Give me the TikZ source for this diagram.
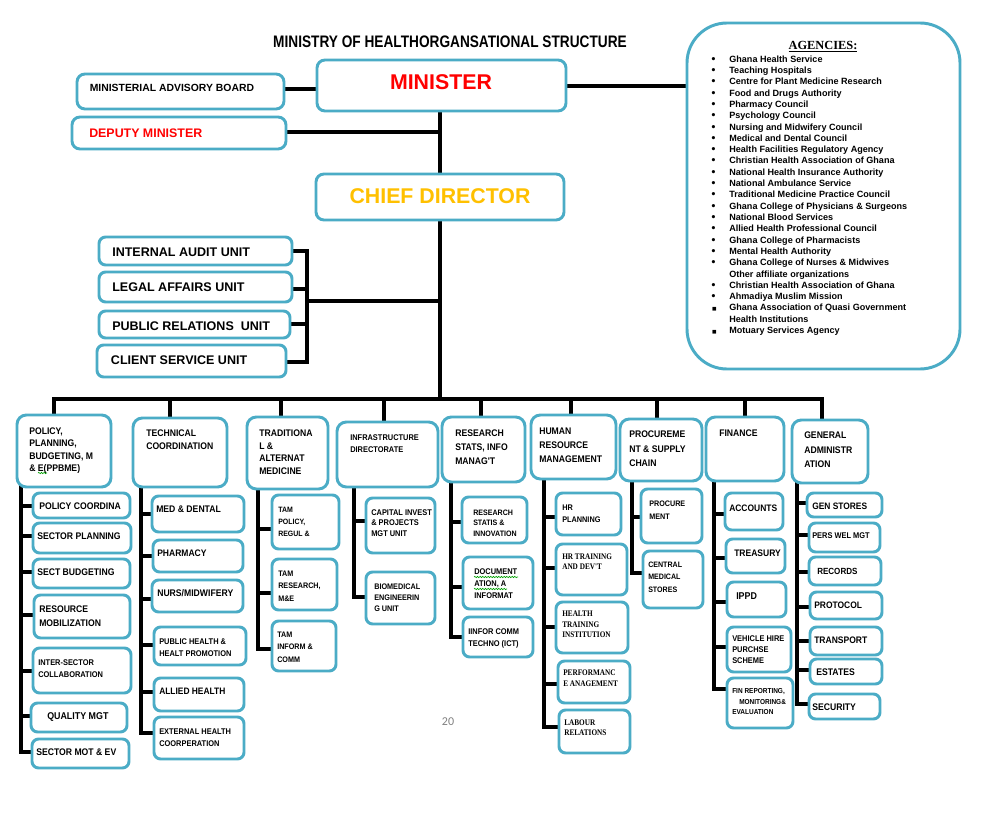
\documentclass[tikz,border=0pt]{standalone}
\usepackage{fontspec}
\setmainfont{Liberation Sans}
\newfontfamily\bsf{Liberation Sans}
\newfontfamily\bsn{Liberation Sans}[FakeStretch=0.9]
\newfontfamily\nar{Liberation Sans}[FakeStretch=0.82]
\newfontfamily\bser{Liberation Serif}[FakeStretch=0.85]
\newfontfamily\bserif{Liberation Serif}
\newfontfamily\dvs{DejaVu Sans}
\newfontfamily\carl{Carlito}
\usetikzlibrary{backgrounds,decorations.pathmorphing}
\definecolor{boxblue}{HTML}{4BACC6}
\definecolor{chiefcol}{HTML}{FFC000}
\definecolor{pgray}{HTML}{808080}
\definecolor{spellgreen}{HTML}{00A000}
% box: name, x1, y1, x2, y2 (pixel coordinates)
\newcommand\bx[6][]{\node[box,#1,anchor=north west,minimum width={(#5-#3)*0.75pt},minimum height={(#6-#4)*0.75pt}] (#2) at (#3,#4) {};}
% text: name, x, baseline y, size, skip, lines
\newcommand\tx[7][]{\node[txt,#1,anchor=base west] (#2) at (#3,#4) {\fontsize{#5}{#6}\selectfont\begin{tabular}[t]{@{}l@{}}#7\end{tabular}};}
\newcommand\stub[3]{\draw[conn] (#1 |- 0,#3) -- (#2.west |- 0,#3);}
\newcommand\agb{\makebox[14pt][l]{\dvs •}}
\newcommand\agq{\makebox[14pt][l]{\hspace*{1pt}\dvs\fontsize{3.6}{4}\selectfont ■}}
\newcommand\agn{\makebox[14pt][l]{}}
\begin{document}
\begin{tikzpicture}[x=0.75pt,y=-0.75pt,
 box/.style={draw=boxblue,line width=2.2pt,rounded corners=5pt,fill=white,inner sep=0pt,outer sep=0pt},
 top/.style={rounded corners=6pt},
 dept/.style={rounded corners=7pt},
 agency/.style={rounded corners=30pt},
 conn/.style={line width=2.4pt,line cap=rect},
 txt/.style={inner sep=0pt,font=\bsn\bfseries},
 txs/.style={font=\bser\bfseries},
 txb/.style={font=\bsf\bfseries},
 spell/.style={draw=spellgreen,line width=0.5pt,decorate,decoration={snake,amplitude=0.5pt,segment length=2pt}}]
\useasboundingbox (0,0) rectangle (1000,820);

% ---------- title ----------
\node[inner sep=0pt,font=\nar\bfseries\fontsize{12.5}{14}\selectfont] (title) at (450,42) {MINISTRY OF HEALTHORGANSATIONAL STRUCTURE};

% ---------- top boxes ----------
\bx[top]{mab}{77}{74}{284}{109}
\bx[top]{dep}{72}{117}{286}{149}
\bx[top]{min}{317}{60}{566}{111}
\bx[top]{cd}{316}{174}{564}{220}
\bx[agency]{ag}{687}{23}{960}{369}

\node[inner sep=0pt,font=\bsf\bfseries\fontsize{16}{18}\selectfont,text=red] (min-t) at (441,82) {MINISTER};
\node[inner sep=0pt,font=\bsf\bfseries\fontsize{16}{18}\selectfont,text=chiefcol] (cd-t) at (440,196) {CHIEF DIRECTOR};
\tx[txb]{mab-t}{89.5}{91.7}{7.8}{9}{MINISTERIAL ADVISORY BOARD}
\tx[txb,text=red]{dep-t}{89}{137.4}{9.3}{11}{DEPUTY MINISTER}

% ---------- agencies ----------
\node[inner sep=0pt,font=\bserif\bfseries\fontsize{9.3}{10}\selectfont] (ag-title) at (823,46.7) {\underline{AGENCIES:}};
\node[inner sep=0pt,anchor=base west,font=\bsf\bfseries\fontsize{6.8}{8.48}\selectfont] (ag-list) at (710.4,62.2) {\begin{tabular}[t]{@{}l@{}}
\agb Ghana Health Service\\
\agb Teaching Hospitals\\
\agb Centre for Plant Medicine Research\\
\agb Food and Drugs Authority\\
\agb Pharmacy Council\\
\agb Psychology Council\\
\agb Nursing and Midwifery Council\\
\agb Medical and Dental Council\\
\agb Health Facilities Regulatory Agency\\
\agb Christian Health Association of Ghana\\
\agb National Health Insurance Authority\\
\agb National Ambulance Service\\
\agb Traditional Medicine Practice Council\\
\agb Ghana College of Physicians \& Surgeons\\
\agb National Blood Services\\
\agb Allied Health Professional Council\\
\agb Ghana College of Pharmacists\\
\agb Mental Health Authority\\
\agb Ghana College of Nurses \& Midwives\\
\agn Other affiliate organizations\\
\agb Christian Health Association of Ghana\\
\agb Ahmadiya Muslim Mission\\
\agq Ghana Association of Quasi Government\\
\agn Health Institutions\\
\agq Motuary Services Agency
\end{tabular}};

% ---------- units ----------
\bx{iau}{99}{237}{292}{265}
\bx{lau}{99}{272}{292}{302}
\bx{pru}{99}{311}{290}{338}
\bx{csu}{97}{345}{286}{377}
\tx[txb]{iau-t}{112}{256.2}{9.4}{11}{INTERNAL AUDIT UNIT}
\tx[txb]{lau-t}{112}{291.2}{9.4}{11}{LEGAL AFFAIRS UNIT}
\tx[txb]{pru-t}{112}{330.5}{9.4}{11}{PUBLIC RELATIONS\ \ UNIT}
\tx[txb]{csu-t}{110.7}{364.5}{9.4}{11}{CLIENT SERVICE UNIT}

% ---------- departments ----------
\bx[dept]{ppb}{17}{415}{111}{487}
\bx[dept]{tec}{133}{418}{227}{487}
\bx[dept]{tra}{247}{417}{328}{489}
\bx[dept]{inf}{337}{422}{438}{487}
\bx[dept]{res}{442}{417}{525}{482}
\bx[dept]{hrm}{531}{415}{616}{479}
\bx[dept]{pro}{620}{419}{702}{481}
\bx[dept]{fin}{706}{417}{784}{481}
\bx[dept]{gad}{792}{420}{868}{483}
\tx{ppb-t}{29}{434.5}{7.2}{9.2}{POLICY,\\PLANNING,\\BUDGETING, M\\\& E(PPBME)}
\tx{tec-t}{146}{436.5}{7.2}{9.75}{TECHNICAL\\COORDINATION}
\tx{tra-t}{259}{436.5}{7.2}{9.5}{TRADITIONA\\L \&\\ALTERNAT\\MEDICINE}
\tx{inf-t}{350}{440}{6.2}{9}{INFRASTRUCTURE\\DIRECTORATE}
\tx{res-t}{455}{436.5}{7.2}{10.5}{RESEARCH\\STATS, INFO\\MANAG'T}
\tx{hrm-t}{539}{434.5}{7.2}{10.5}{HUMAN\\RESOURCE\\MANAGEMENT}
\tx{pro-t}{629}{437.5}{7.2}{10.9}{PROCUREME\\NT \& SUPPLY\\CHAIN}
\tx{fin-t}{719}{436.5}{7.2}{9}{FINANCE}
\tx{gad-t}{804}{438.5}{7.2}{10.9}{GENERAL\\ADMINISTR\\ATION}

% ---------- column 1 ----------
\bx{pc}{33}{493}{130}{518}
\bx{sp}{33}{523}{131}{553}
\bx{sb}{33}{559}{130}{588}
\bx{rm}{34}{595}{130}{638}
\bx{isc}{33}{648}{131}{693}
\bx{qm}{31}{703}{127}{732}
\bx{sme}{32}{739}{129}{768}
\tx{pc-t}{39}{509.5}{7.2}{9}{POLICY COORDINA}
\tx{sp-t}{37}{539.5}{7.2}{9}{SECTOR PLANNING}
\tx{sb-t}{37}{575.5}{7.2}{9}{SECT BUDGETING}
\tx{rm-t}{39}{612.5}{7.2}{10.5}{RESOURCE\\MOBILIZATION}
\tx{isc-t}{38}{665}{6.2}{9}{INTER-SECTOR\\COLLABORATION}
\tx{qm-t}{47}{719.5}{7.4}{9}{QUALITY MGT}
\tx{sme-t}{36}{755.5}{7.2}{9}{SECTOR MOT \& EV}

% ---------- column 2 ----------
\bx{md}{152}{496}{244}{532}
\bx{ph}{153}{540}{243}{572}
\bx{nm}{152}{580}{243}{612}
\bx{phh}{154}{627}{246}{665}
\bx{ah}{154}{678}{244}{711}
\bx{eh}{154}{717}{244}{759}
\tx{md-t}{156}{512.5}{7.2}{9}{MED \& DENTAL}
\tx{ph-t}{157}{556.5}{7.1}{9}{PHARMACY}
\tx{nm-t}{157}{596.5}{7.2}{9}{NURS/MIDWIFERY}
\tx{phh-t}{159}{644}{6.2}{9}{PUBLIC HEALTH \&\\HEALT PROMOTION}
\tx{ah-t}{159}{694.5}{7.0}{9}{ALLIED HEALTH}
\tx{eh-t}{159}{734}{6.2}{9}{EXTERNAL HEALTH\\COORPERATION}

% ---------- column 3 ----------
\bx{tp}{272}{495}{339}{549}
\bx{tr}{272}{559}{337}{610}
\bx{ti}{272}{621}{336}{671}
\tx{tp-t}{278}{512.8}{5.8}{9}{TAM\\POLICY,\\REGUL \&}
\tx{tr-t}{278}{576}{6.0}{9.4}{TAM\\RESEARCH,\\M\&E}
\tx{ti-t}{277}{637}{6.0}{9.4}{TAM\\INFORM \&\\COMM}

% ---------- column 4 ----------
\bx{cap}{366}{498}{435}{553}
\bx{bio}{366}{572}{435}{624}
\tx{cap-t}{371}{515}{6.2}{7.9}{CAPITAL INVEST\\\& PROJECTS\\MGT UNIT}
\tx{bio-t}{374}{589}{6.05}{8.6}{BIOMEDICAL\\ENGINEERIN\\G UNIT}

% ---------- column 5 ----------
\bx{rsi}{462}{497}{527}{543}
\bx{doc}{463}{557}{533}{609}
\bx{ict}{463}{617}{533}{657}
\tx{rsi-t}{473}{515}{5.9}{7.9}{RESEARCH\\STATIS \&\\INNOVATION}
\tx{doc-t}{474}{574}{6.2}{9}{DOCUMENT\\ATION, A\\INFORMAT}
\tx{ict-t}{468}{634}{6.2}{9}{IINFOR COMM\\TECHNO (ICT)}

% ---------- column 6 ----------
\bx{hrp}{556}{493}{621}{535}
\bx{hrt}{556}{544}{627}{595}
\bx{hti}{556}{602}{628}{653}
\bx{pm}{558}{661}{630}{703}
\bx{lr}{559}{710}{630}{753}
\tx{hrp-t}{562}{510}{6.1}{9}{HR\\PLANNING}
\tx[txs]{hrt-t}{562}{559.8}{6.4}{7.5}{HR TRAINING\\AND DEV'T}
\tx[txs]{hti-t}{562}{616.8}{6.4}{7.9}{HEALTH\\TRAINING\\INSTITUTION}
\tx[txs]{pm-t}{563}{675.8}{6.4}{8.2}{PERFORMANC\\E ANAGEMENT}
\tx[txs]{lr-t}{564}{725.8}{6.4}{7.5}{LABOUR\\RELATIONS}

% ---------- column 7 ----------
\bx{prc}{641}{489}{702}{543}
\bx{cms}{643}{551}{703}{608}
\tx{prc-t}{649}{506}{6.0}{9.75}{PROCURE\\MENT}
\tx{cms-t}{648}{567}{5.9}{9.4}{CENTRAL\\MEDICAL\\STORES}

% ---------- column 8 ----------
\bx{acc}{725}{493}{783}{530}
\bx{tre}{726}{539}{785}{573}
\bx{ipd}{727}{582}{786}{617}
\bx{vh}{727}{627}{791}{672}
\bx{frm}{727}{678}{793}{728}
\tx{acc-t}{729}{511.5}{7.05}{9}{ACCOUNTS}
\tx{tre-t}{734}{556.5}{7.1}{9}{TREASURY}
\tx{ipd-t}{736}{599.5}{7.4}{9}{IPPD}
\tx{vh-t}{732}{641}{6.2}{8.6}{VEHICLE HIRE\\PURCHSE\\SCHEME}
\tx{frm-t}{732}{693.7}{5.4}{7.9}{FIN REPORTING,\\\hspace*{5.25pt}MONITORING\&\\EVALUATION}

% ---------- column 9 ----------
\bx{gs}{807}{493}{882}{517}
\bx{pw}{809}{523}{880}{552}
\bx{rec}{809}{557}{881}{585}
\bx{prt}{810}{592}{882}{619}
\bx{trn}{810}{627}{882}{655}
\bx{est}{810}{659}{882}{684}
\bx{sec}{809}{694}{880}{719}
\tx{gs-t}{812}{509.5}{7.0}{9}{GEN STORES}
\tx{pw-t}{812}{538}{6.2}{9}{PERS WEL MGT}
\tx{rec-t}{817}{574.3}{6.7}{9}{RECORDS}
\tx{prt-t}{814}{608.5}{7.05}{9}{PROTOCOL}
\tx{trn-t}{814}{643.5}{7.1}{9}{TRANSPORT}
\tx{est-t}{816}{675.5}{7.2}{9}{ESTATES}
\tx{sec-t}{812}{710.5}{7.2}{9}{SECURITY}

% ---------- page number ----------
\node[inner sep=0pt,font=\carl\fontsize{9}{10}\selectfont,text=pgray] (pg) at (448,722) {20};

% ---------- spell-check marks ----------
\draw[spell] (38,473) -- (47,473);
\draw[spell] (474,577) -- (518,577);
\draw[spell] (474,589) -- (507,589);

% ---------- connectors ----------
\coordinate (cx) at (440,0);
\coordinate (ub) at (307,0);
\coordinate (d1) at (54,399);
\coordinate (d2) at (170,399);
\coordinate (d3) at (281,399);
\coordinate (d4) at (384,399);
\coordinate (d5) at (481,399);
\coordinate (d6) at (571,399);
\coordinate (d7) at (657,399);
\coordinate (d8) at (745,399);
\coordinate (d9) at (822,399);
\coordinate (c1) at (21,0);
\coordinate (c2) at (141,0);
\coordinate (c3) at (258,0);
\coordinate (c4) at (354,0);
\coordinate (c5) at (451,0);
\coordinate (c6) at (544,0);
\coordinate (c7) at (632,0);
\coordinate (c8) at (714,0);
\coordinate (c9) at (797,0);
\begin{scope}[on background layer]
\fill[white] (0,0) rectangle (1000,820);
\draw[conn] (mab.east |- 0,89) -- (min.west |- 0,89);
\draw[conn] (min.east |- 0,86) -- (ag.west |- 0,86);
\draw[conn] (min.south -| cx) -- (cd.north -| cx);
\draw[conn] (dep.east |- 0,132) -- (cx |- 0,132);
\draw[conn] (cd.south -| cx) -- (cx |- d1);
% units bracket
\draw[conn] (ub |- 0,251) -- (ub |- 0,362);
\draw[conn] (iau.east |- 0,251) -- (ub |- 0,251);
\draw[conn] (lau.east |- 0,289) -- (ub |- 0,289);
\draw[conn] (pru.east |- 0,324) -- (ub |- 0,324);
\draw[conn] (csu.east |- 0,362) -- (ub |- 0,362);
\draw[conn] (ub |- 0,301) -- (cx |- 0,301);
% bus and drops
\draw[conn] (d1) -- (d9);
\draw[conn] (d1) -- (ppb.north -| d1);
\draw[conn] (d2) -- (tec.north -| d2);
\draw[conn] (d3) -- (tra.north -| d3);
\draw[conn] (d4) -- (inf.north -| d4);
\draw[conn] (d5) -- (res.north -| d5);
\draw[conn] (d6) -- (hrm.north -| d6);
\draw[conn] (d7) -- (pro.north -| d7);
\draw[conn] (d8) -- (fin.north -| d8);
\draw[conn] (d9) -- (gad.north -| d9);
% column 1
\draw[conn] (c1 |- ppb.south) -- (c1 |- 0,752);
\stub{c1}{pc}{506}\stub{c1}{sp}{536}\stub{c1}{sb}{572}\stub{c1}{rm}{615}
\stub{c1}{isc}{671}\stub{c1}{qm}{716}\stub{c1}{sme}{752}
% column 2
\draw[conn] (c2 |- tec.south) -- (c2 |- 0,733);
\stub{c2}{md}{514}\stub{c2}{ph}{556}\stub{c2}{nm}{599}\stub{c2}{phh}{645}
\stub{c2}{ah}{692}\stub{c2}{eh}{733}
% column 3
\draw[conn] (c3 |- tra.south) -- (c3 |- 0,649);
\stub{c3}{tp}{529}\stub{c3}{tr}{593}\stub{c3}{ti}{649}
% column 4
\draw[conn] (c4 |- inf.south) -- (c4 |- 0,597);
\stub{c4}{cap}{521}\stub{c4}{bio}{597}
% column 5
\draw[conn] (c5 |- res.south) -- (c5 |- 0,637);
\stub{c5}{rsi}{522}\stub{c5}{doc}{587}\stub{c5}{ict}{637}
% column 6
\draw[conn] (c6 |- hrm.south) -- (c6 |- 0,727);
\stub{c6}{hrp}{517}\stub{c6}{hrt}{568}\stub{c6}{hti}{627}\stub{c6}{pm}{684}\stub{c6}{lr}{727}
% column 7
\draw[conn] (c7 |- pro.south) -- (c7 |- 0,573);
\stub{c7}{prc}{517}\stub{c7}{cms}{573}
% column 8
\draw[conn] (c8 |- fin.south) -- (c8 |- 0,689);
\stub{c8}{acc}{514}\stub{c8}{tre}{558}\stub{c8}{ipd}{602}\stub{c8}{vh}{647}\stub{c8}{frm}{689}
% column 9
\draw[conn] (c9 |- gad.south) -- (c9 |- 0,704);
\stub{c9}{gs}{503}\stub{c9}{pw}{535}\stub{c9}{rec}{572}\stub{c9}{prt}{607}
\stub{c9}{trn}{641}\stub{c9}{est}{670}\stub{c9}{sec}{704}
\end{scope}
\end{tikzpicture}
\end{document}
